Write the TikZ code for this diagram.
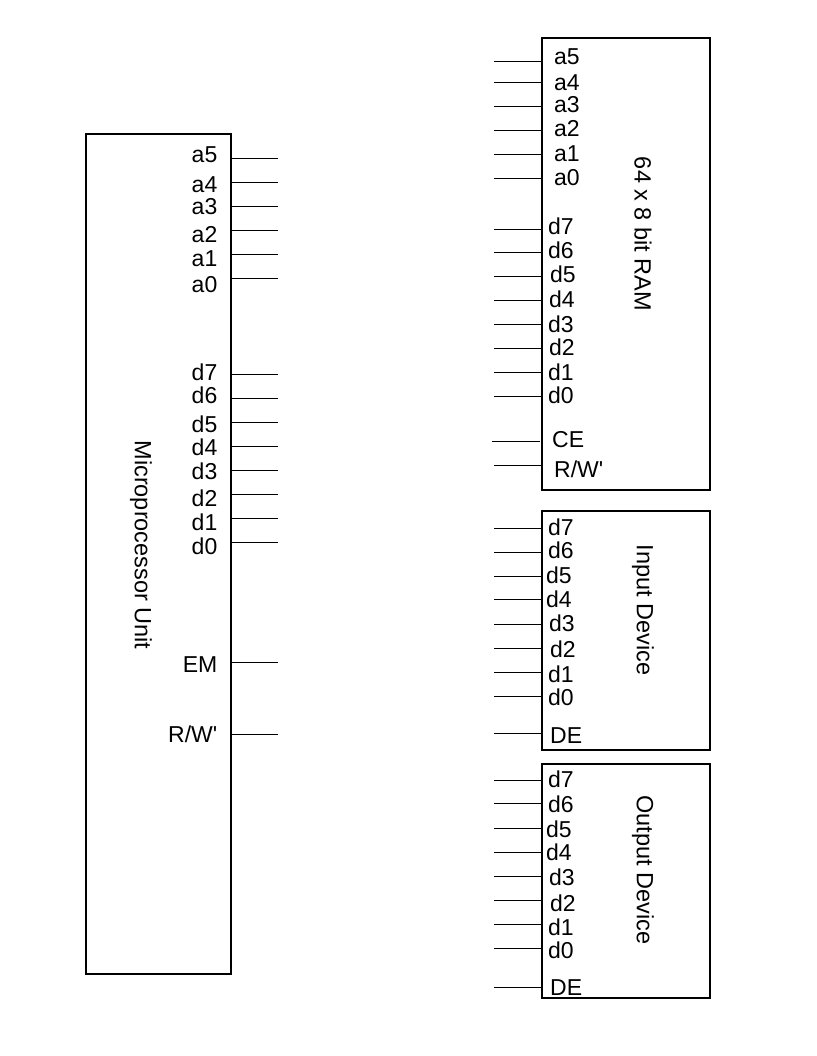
\documentclass[tikz,border=0pt]{standalone}
\usepackage{fontspec}
\setmainfont{Liberation Sans}
\begin{document}
\begin{tikzpicture}[x=1pt,y=-1pt,
  box/.style={draw, line width=1.2pt, inner sep=0pt, outer sep=0pt},
  pin/.style={line width=0.8pt},
  lbl/.style={font=\fontsize{23}{27}\selectfont, inner sep=0pt},
  title/.style={font=\fontsize{23.5}{28}\selectfont, rotate=-90, inner sep=0pt}]
\useasboundingbox (0,0) rectangle (816,1056);
% boxes
\node[box, minimum width=145pt, minimum height=840pt] (mpu) at (158.5,554) {};
\node[box, minimum width=168pt, minimum height=452pt] (ram) at (626,264) {};
\node[box, minimum width=168pt, minimum height=239pt] (inp) at (626,630.5) {};
\node[box, minimum width=168pt, minimum height=234pt] (out) at (626,881) {};
% titles
\node[title] (mpu-t) at (141,545) {Microprocessor Unit};
\node[title] (ram-t) at (643,234) {64 x 8 bit RAM};
\node[title] (inp-t) at (643,610) {Input Device};
\node[title] (out-t) at (643,870) {Output Device};
% microprocessor pins
\foreach \n/\y/\b in {a5/158/163,a4/182/193,a3/206/215,a2/230/243,a1/254/267,a0/278/292,
  d7/374/380,d6/398/403,d5/422/432,d4/446/455,d3/470/479,d2/494/506,d1/518/530,d0/542/554,EM/662/672}{
  \coordinate (mpu-\n) at (mpu.east |- 0,\y);
  \coordinate (mpu-\n-e) at (278,\y);
  \draw[pin] (mpu-\n) -- (mpu-\n-e);
  \node[lbl, anchor=base east] (mpu-\n-l) at (217.5,\b) {\n};
}
\coordinate (mpu-rw) at (mpu.east |- 0,734);
\coordinate (mpu-rw-e) at (278,734);
\draw[pin] (mpu-rw) -- (mpu-rw-e);
\node[lbl, anchor=base east] (mpu-rw-l) at (217.5,742) {R/W\textquotesingle};
% RAM pins
\foreach \n/\y/\b/\x in {a5/61/65/554,a4/82/91/554,a3/106/113/554,a2/130/137/554,a1/154/162/554,a0/178/186/554,
  d7/229/235/548,d6/252/259/548,d5/276/283/550,d4/300/307/549,d3/324/332/548,d2/348/355/549,d1/372/380/548,d0/396/403/548}{
  \coordinate (ram-\n) at (ram.west |- 0,\y);
  \coordinate (ram-\n-e) at (494,\y);
  \draw[pin] (ram-\n-e) -- (ram-\n);
  \node[lbl, anchor=base west] (ram-\n-l) at (\x,\b) {\n};
}
\coordinate (ram-ce) at (540,441);
\coordinate (ram-ce-e) at (492,441);
\draw[pin] (ram-ce-e) -- (ram-ce);
\node[lbl, anchor=base west] (ram-ce-l) at (552,447) {CE};
\coordinate (ram-rw) at (ram.west |- 0,465);
\coordinate (ram-rw-e) at (494,465);
\draw[pin] (ram-rw-e) -- (ram-rw);
\node[lbl, anchor=base west] (ram-rw-l) at (554,477) {R/W\textquotesingle};
% input device pins
\foreach \n/\y/\b/\x in {d7/528/535/548,d6/552/558/548,d5/576/583/546,d4/599/607/546,d3/624/631/549,d2/648/657/550,d1/672/682/548,d0/696/705/548,DE/733/743/550}{
  \coordinate (inp-\n) at (inp.west |- 0,\y);
  \coordinate (inp-\n-e) at (494,\y);
  \draw[pin] (inp-\n-e) -- (inp-\n);
  \node[lbl, anchor=base west] (inp-\n-l) at (\x,\b) {\n};
}
% output device pins
\foreach \n/\y/\b/\x in {d7/780/787/548,d6/803/812/548,d5/828/837/546,d4/852/860/546,d3/876/885/549,d2/900/911/550,d1/924/935/548,d0/948/958/548,DE/987/995/550}{
  \coordinate (out-\n) at (out.west |- 0,\y);
  \coordinate (out-\n-e) at (494,\y);
  \draw[pin] (out-\n-e) -- (out-\n);
  \node[lbl, anchor=base west] (out-\n-l) at (\x,\b) {\n};
}
\end{tikzpicture}
\end{document}
